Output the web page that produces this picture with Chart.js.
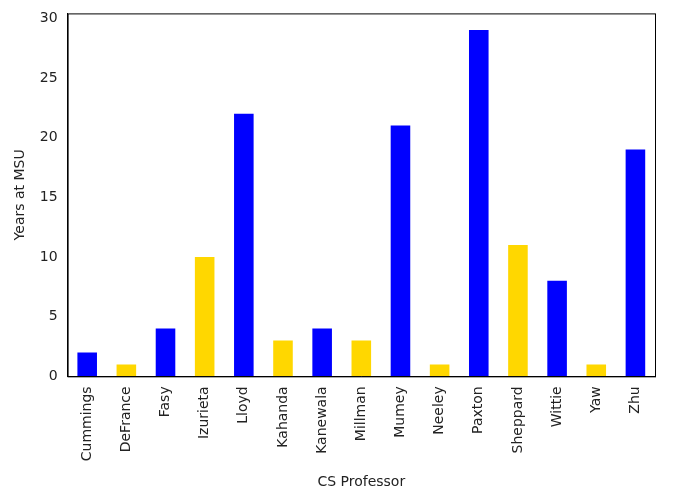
<!DOCTYPE html>
<html>
<head>
<script src="https://cdn.jsdelivr.net/npm/chart.js@4"></script>
<style>
  html, body { margin: 0; padding: 0; background: #fff; }
  #wrap { width: 700px; height: 493px; }
</style>
</head>
<body>
<div id="wrap"><canvas id="chart"></canvas></div>
<script>
// professors and their years at MSU
const professors = ['Cummings', 'DeFrance', 'Fasy', 'Izurieta', 'Lloyd', 'Kahanda', 'Kanewala',
  'Millman', 'Mumey', 'Neeley', 'Paxton', 'Sheppard', 'Wittie', 'Yaw', 'Zhu'];
const years = [2, 1, 4, 10, 22, 3, 4, 3, 21, 1, 29, 11, 8, 1, 19];
const barColors = ['blue', 'gold', 'blue', 'gold', 'blue', 'gold', 'blue', 'gold',
  'blue', 'gold', 'blue', 'gold', 'blue', 'gold', 'blue'];
const yTicks = [0, 5, 10, 15, 20, 25, 30];

Chart.defaults.font.family = 'DejaVu Sans';
Chart.defaults.font.size = 14;
Chart.defaults.color = '#222';

// full box around the plot area, like matplotlib spines
const frame = {
  id: 'frame',
  afterDraw(chart) {
    const { ctx, chartArea: a } = chart;
    ctx.save();
    ctx.strokeStyle = '#000';
    ctx.lineWidth = 1;
    ctx.strokeRect(a.left + 0.5, a.top + 0.5, a.right - a.left, a.bottom - a.top);
    ctx.restore();
  }
};

new Chart(document.getElementById('chart'), {
  type: 'bar',
  data: {
    labels: professors,
    datasets: [{ data: years, backgroundColor: barColors, barPercentage: 0.5, categoryPercentage: 1 }]
  },
  options: {
    responsive: true,
    maintainAspectRatio: false,
    animation: false,
    layout: { padding: { top: 5, right: 45, bottom: 2, left: 8 } },
    plugins: { legend: { display: false }, tooltip: { enabled: false } },
    scales: {
      x: {
        grid: { display: false, drawTicks: true, tickLength: 5, tickColor: '#000' },
        border: { color: '#000' },
        ticks: { maxRotation: 90, minRotation: 90, color: '#222', padding: 5 },
        title: { display: true, text: 'CS Professor', color: '#222', padding: { top: 8, bottom: 0 } }
      },
      y: {
        min: 0,
        max: 30.4,
        afterBuildTicks(axis) { axis.ticks = yTicks.map(v => ({ value: v })); },
        grid: { display: false, drawTicks: true, tickLength: 5, tickColor: '#000' },
        border: { color: '#000' },
        ticks: { color: '#222', padding: 5 },
        title: { display: true, text: 'Years at MSU', color: '#222', padding: { bottom: 6 } }
      }
    }
  },
  plugins: [frame]
});
</script>
</body>
</html>
